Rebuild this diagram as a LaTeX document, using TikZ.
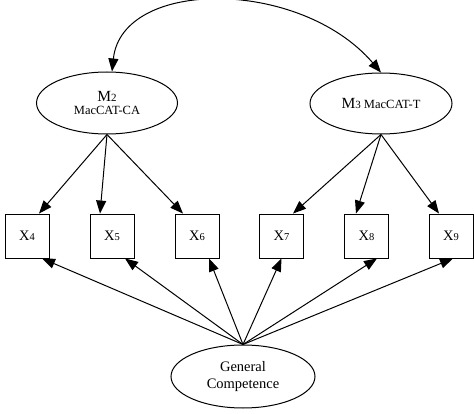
\documentclass[tikz,border=0pt]{standalone}
\usepackage{fontspec}
\setmainfont{Liberation Serif}
\usetikzlibrary{shapes.geometric,arrows.meta}
\newcommand{\bigM}[1]{{\fontsize{15.5}{15.5}\selectfont M}{\fontsize{11}{11}\selectfont #1}}
\newcommand{\bigX}[1]{{\fontsize{14.5}{14.5}\selectfont X}{\fontsize{10.5}{10.5}\selectfont #1}}
\tikzset{
  latent/.style={draw, ellipse, line width=1pt, inner sep=0pt, align=center,
    font=\fontsize{12.5}{14}\selectfont},
  manifest/.style={draw, rectangle, line width=0.9pt, minimum width=44pt, minimum height=44pt, inner sep=0pt},
  path arrow/.style={line width=1pt, -{Triangle[length=13pt,width=10pt]}}
}
\begin{document}
\begin{tikzpicture}[x=1pt,y=-1pt]
\useasboundingbox (0,0) rectangle (474,414);
\node[latent, minimum width=141pt, minimum height=62pt] (m2) at (107,103) {\bigM{2}\\[-1pt]MacCAT-CA};
\node[latent, minimum width=142pt, minimum height=61pt] (m3) at (381,103.5) {\bigM{3} MacCAT-T};
\node[latent, minimum width=144pt, minimum height=63pt, font=\fontsize{14.5}{16.5}\selectfont] (gc) at (243,376.5) {General\\Competence};
\node[manifest] (x4) at (27,236) {\bigX{4}};
\node[manifest] (x5) at (112,236) {\bigX{5}};
\node[manifest] (x6) at (197,236) {\bigX{6}};
\node[manifest] (x7) at (281.5,236) {\bigX{7}};
\node[manifest] (x8) at (366.5,236) {\bigX{8}};
\node[manifest] (x9) at (451,236) {\bigX{9}};
% correlation arc
\draw[path arrow, {Triangle[length=13pt,width=10pt]}-{Triangle[length=13pt,width=10pt]}]
  ([xshift=5pt]m2.north) .. controls (122,-22) and (300,-22) .. (m3.north);
% loadings from M2
\draw[path arrow] (m2.south) -- ([xshift=12pt]x4.north);
\draw[path arrow] (m2.south) -- ([xshift=-12pt]x5.north);
\draw[path arrow] (m2.south) -- ([xshift=-14pt]x6.north);
% loadings from M3
\draw[path arrow] (m3.south) -- ([xshift=11.5pt]x7.north);
\draw[path arrow] (m3.south) -- ([xshift=-10.5pt]x8.north);
\draw[path arrow] (m3.south) -- ([xshift=-12pt]x9.north);
% loadings from General Competence
\draw[path arrow] (gc.north) -- ([xshift=15pt]x4.south);
\draw[path arrow] (gc.north) -- ([xshift=13pt]x5.south);
\draw[path arrow] (gc.north) -- ([xshift=12pt]x6.south);
\draw[path arrow] (gc.north) -- ([xshift=0pt]x7.south);
\draw[path arrow] (gc.north) -- ([xshift=10.5pt]x8.south);
\draw[path arrow] (gc.north) -- ([xshift=2pt]x9.south);
\end{tikzpicture}
\end{document}
